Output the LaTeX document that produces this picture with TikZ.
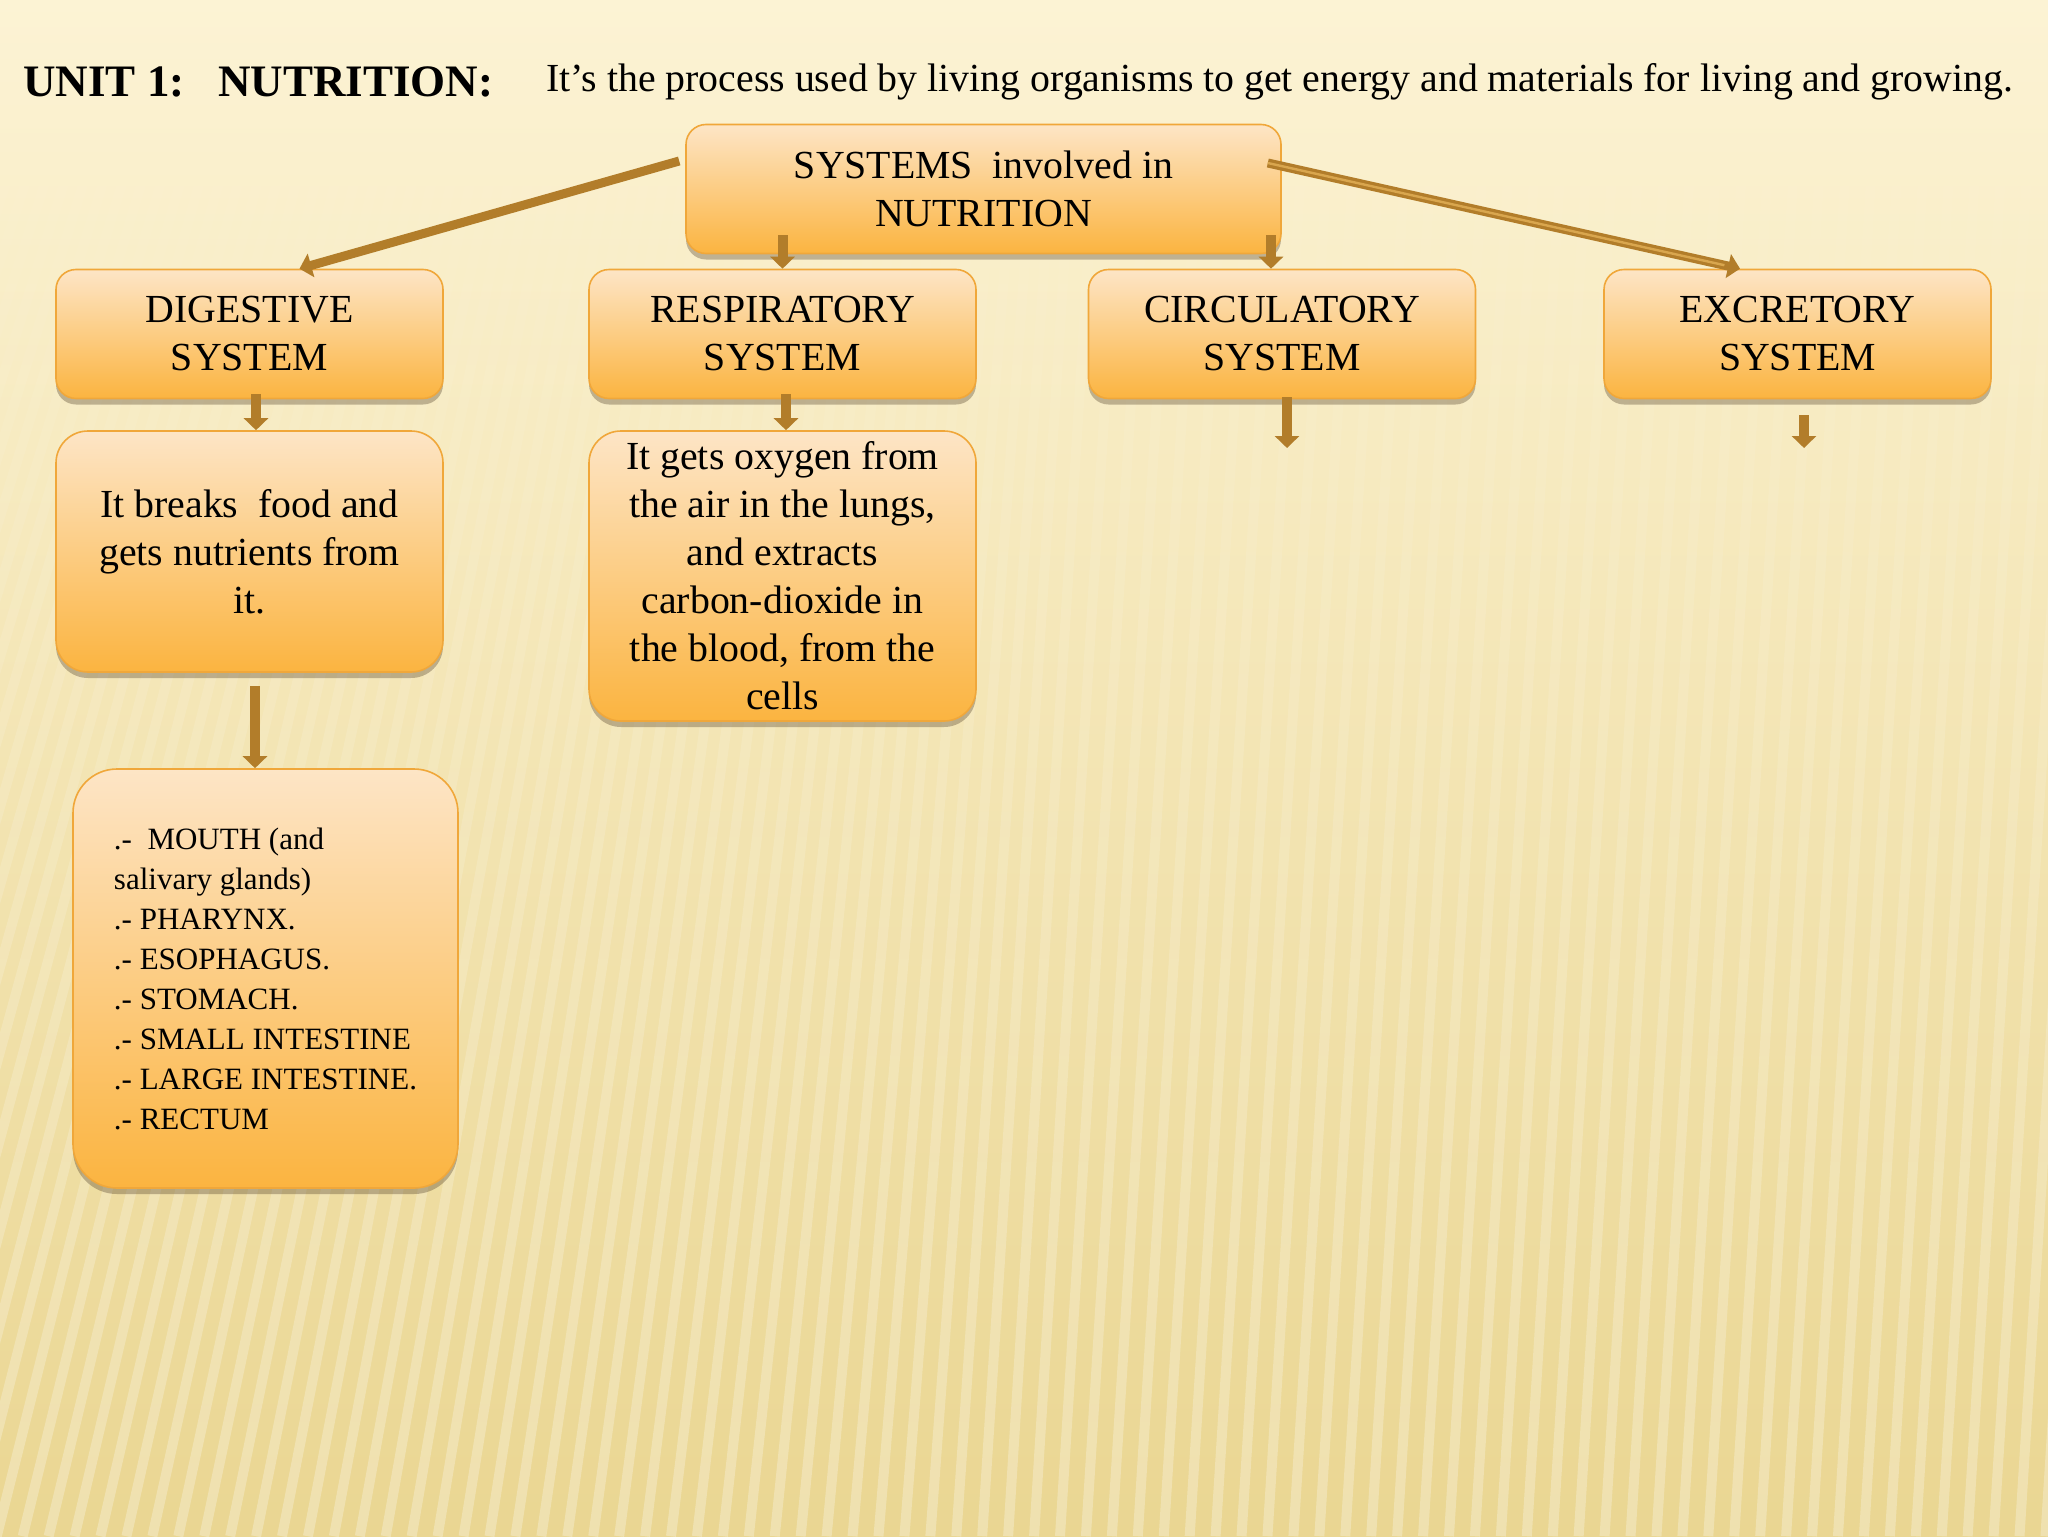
\documentclass[tikz,border=0pt]{standalone}
\usepackage{fontspec}
\setmainfont{Liberation Serif}
\usetikzlibrary{arrows.meta,shadows,fadings,calc}
\definecolor{bgtop}{HTML}{FCF3D4}
\definecolor{bgmid}{HTML}{F8EBBD}
\definecolor{bgbot}{HTML}{EAD692}
\definecolor{boxtop}{HTML}{FDE5C6}
\definecolor{boxbot}{HTML}{FBB440}
\definecolor{boxline}{HTML}{F0A73A}
\definecolor{arrowc}{HTML}{B27D2A}
\definecolor{arrowhi}{HTML}{D9A64E}
\tikzfading[name=stripefade, top color=transparent!100, bottom color=transparent!30]
\tikzset{
  sysbox/.style={rectangle, rounded corners=10pt, draw=boxline, line width=0.8pt,
    top color=boxtop, bottom color=boxbot, align=center, inner sep=2pt,
    minimum width=193.5pt, minimum height=64.5pt,
    font=\fontsize{19.9}{24}\selectfont,
    drop shadow={shadow xshift=0pt, shadow yshift=-3pt, fill=black!70!brown, opacity=0.3}},
  descbox/.style={sysbox, rounded corners=16pt},
  conn/.style={draw=arrowc, line width=4.5pt, -{Triangle[width=12pt,length=6pt]}},
  downconn/.style={draw=arrowc, line width=5pt, -{Triangle[width=12pt,length=6pt]}},
}
\begin{document}
\begin{tikzpicture}[x=0.5pt,y=-0.5pt]
\useasboundingbox (0,0) rectangle (2048,1536);
% background
\shade[top color=bgtop, middle color=bgmid, bottom color=bgbot] (0,0) rectangle (2048,1536);
\begin{scope}
\clip (0,0) rectangle (2048,1536);
\draw[white, line width=5pt, opacity=0.4, path fading=stripefade]
  \foreach \x [evaluate=\x as \d using {max(90,360-0.27*\x)}] in {-700,-674,...,2100} {
    (\x,1536) -- ++(\d,-1436) };
\end{scope}
% title
\node[anchor=base west, inner sep=0pt, font=\bfseries\fontsize{22.5}{27}\selectfont] (title) at (23,97) {UNIT 1:\ \ \ NUTRITION:};
\node[anchor=base west, inner sep=0pt, font=\fontsize{19.9}{24}\selectfont] (def) at (546,91) {It’s the process used by living organisms to get energy and materials for living and growing.};
% boxes
\node[sysbox, minimum width=297.5pt] (top) at (983.5,189) {SYSTEMS\ \ involved in\\NUTRITION};
\node[sysbox] (dig) at (249.5,334) {DIGESTIVE\\SYSTEM};
\node[sysbox] (resp) at (782.5,334) {RESPIRATORY\\SYSTEM};
\node[sysbox] (circ) at (1282,334) {CIRCULATORY\\SYSTEM};
\node[sysbox] (exc) at (1797.5,334) {EXCRETORY\\SYSTEM};
\node[descbox, minimum height=120.5pt] (digd) at (249.5,551.5) {It breaks\ \ food and\\gets nutrients from\\it.};
\node[descbox, minimum height=145pt] (respd) at (782.5,576) {It gets oxygen from\\the air in the lungs,\\and extracts\\carbon-dioxide in\\the blood, from the\\cells};
\node[descbox, rounded corners=22pt, minimum width=192.5pt, minimum height=209.5pt, align=left,
  font=\fontsize{15.5}{20}\selectfont] (list) at (265.5,978.5)
  {.-\ \ MOUTH (and\\salivary glands)\\.- PHARYNX.\\.- ESOPHAGUS.\\.- STOMACH.\\.- SMALL INTESTINE\\.- LARGE INTESTINE.\\.- RECTUM};
% free ends
\coordinate (circend) at (1287,448);
\coordinate (excend) at (1804,448);
% connectors
\draw[conn] ([xshift=-3pt,yshift=14pt]top.west) -- ([xshift=25pt]dig.north);
\draw[conn] ([xshift=-7pt,yshift=13pt]top.east) -- ([xshift=-28.75pt]exc.north);
\draw[arrowhi, line width=1.2pt, shorten >=8pt] ([xshift=-7pt,yshift=13pt]top.east) -- ([xshift=-28.75pt]exc.north);
\draw[downconn] ([yshift=9.5pt]top.south -| resp.north) -- (resp.north);
\draw[downconn] ([xshift=-5.5pt,yshift=9.5pt]top.south -| circ.north) -- ([xshift=-5.5pt]circ.north);
\draw[downconn] ([xshift=3.25pt,yshift=2.5pt]dig.south) -- ([xshift=3.25pt]digd.north);
\draw[downconn] ([xshift=1.75pt,yshift=2.5pt]resp.south) -- ([xshift=1.75pt]respd.north);
\draw[downconn] ([xshift=2.75pt,yshift=-6.5pt]digd.south) -- ([xshift=-5.25pt]list.north);
\draw[downconn] ([xshift=2.5pt,yshift=1pt]circ.south) -- (circend);
\draw[downconn] ([xshift=3.25pt,yshift=-8pt]exc.south) -- (excend);
\end{tikzpicture}
\end{document}
